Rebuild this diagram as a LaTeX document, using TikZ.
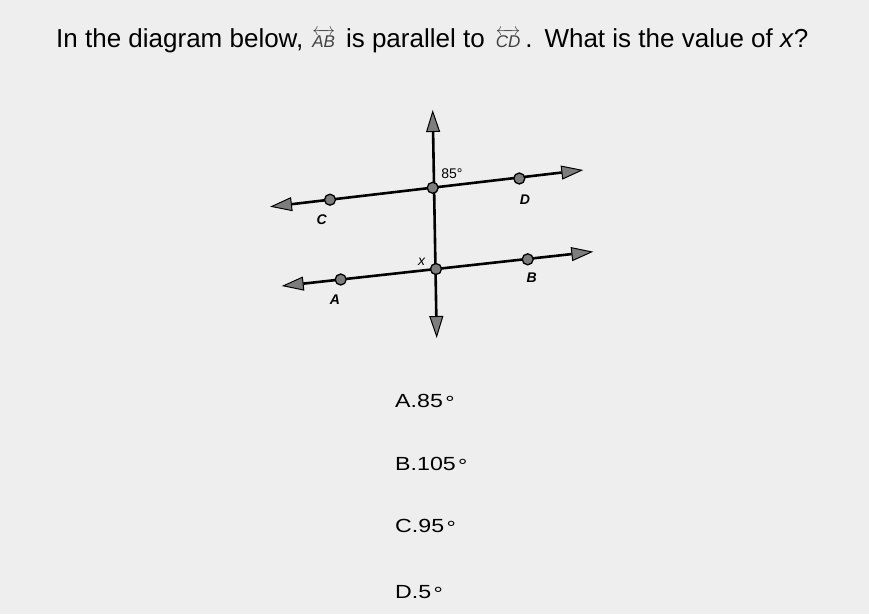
\documentclass[tikz,border=0pt]{standalone}
\usepackage{amsmath}
\usepackage{fontspec}
\setmainfont{Liberation Sans}
\usetikzlibrary{arrows.meta, positioning}
\definecolor{paper}{RGB}{238,238,238}
\definecolor{ptgray}{RGB}{125,125,125}
\newcommand{\lineof}[1]{{\fontsize{17}{17}\selectfont\color{black!75}$\overleftrightarrow{\textit{#1}}$}}
\newcommand{\degmark}{\hspace{2pt}\raisebox{-2pt}{\textdegree}}
\tikzset{
  ptdot/.style={circle, draw=black, fill=ptgray, line width=1.3pt, inner sep=0pt, minimum size=11pt},
  ray/.style={line width=2.6pt, {Triangle[length=22pt,width=14pt,fill=ptgray,line width=1pt]}-{Triangle[length=22pt,width=14pt,fill=ptgray,line width=1pt]}},
  ptlabel/.style={font=\fontsize{14}{14}\selectfont\bfseries\itshape},
  choice/.style={anchor=base west, inner sep=0pt, font=\fontsize{19}{19}\selectfont}
}
\begin{document}
\begin{tikzpicture}[x=1pt,y=-1pt]
\fill[paper] (0,0) rectangle (869,614);
% question
\node[anchor=base west, inner sep=0pt, font=\fontsize{26}{26}\selectfont] (question) at (56,47)
  {In the diagram below,\hspace{9pt}\lineof{AB}\hspace{11pt}is parallel to\hspace{11pt}\lineof{CD}\hspace{5pt}.\hspace{12pt}What is the value of \textit{x}?};
% the three lines
\coordinate (top) at (432.7,110);
\coordinate (bottom) at (436.7,338);
\coordinate (cdleft) at (270,206.7);
\coordinate (cdright) at (583.3,170);
\coordinate (ableft) at (281.7,286);
\coordinate (abright) at (593.3,251.7);
\draw[ray] (top) -- (bottom);
\draw[ray] (cdleft) -- (cdright);
\draw[ray] (ableft) -- (abright);
% points
\node[ptdot] (P) at (432.7,187.8) {};
\node[ptdot] (Q) at (436,269) {};
\node[ptdot] (C) at (330,199.7) {};
\node[ptdot] (D) at (519.3,178.5) {};
\node[ptdot] (A) at (340.7,279.5) {};
\node[ptdot] (B) at (527.7,259.3) {};
\node[ptlabel] at (321.7,220) {C};
\node[ptlabel] at (525,199.3) {D};
\node[ptlabel] at (335,300) {A};
\node[ptlabel] at (531.7,277.3) {B};
\node[font=\fontsize{14}{14}\selectfont] (angle) at (452,174) {85\textdegree};
\node[font=\fontsize{14}{14}\selectfont\itshape] (x) at (421.7,261.7) {x};
% answer choices
\node[choice] (ansA) at (395,407) {\scalebox{1.22}[1]{A.85\degmark}};
\node[choice] (ansB) at (395,470) {\scalebox{1.22}[1]{B.105\degmark}};
\node[choice] (ansC) at (395,532) {\scalebox{1.22}[1]{C.95\degmark}};
\node[choice] (ansD) at (395,598) {\scalebox{1.22}[1]{D.5\degmark}};
\end{tikzpicture}
\end{document}
